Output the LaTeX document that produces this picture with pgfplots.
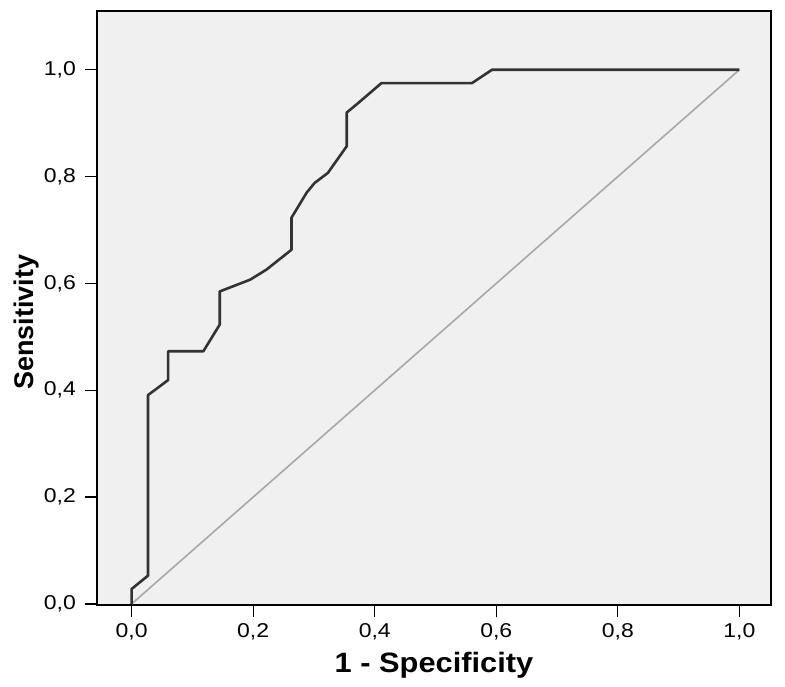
\documentclass[border=0pt]{standalone}
\usepackage{pgfplots}
\pgfplotsset{compat=1.18}
\usepackage{fontspec}
\setmainfont{Liberation Sans}
\newfontfamily\widefont[FakeStretch=1.15]{Liberation Sans}
\newfontfamily\xlabfont[FakeStretch=1.1]{Liberation Sans}
\definecolor{bgc}{HTML}{F0F0F0}
\definecolor{curvec}{HTML}{333333}
\definecolor{refc}{HTML}{A8A8A8}
\begin{document}
\begin{tikzpicture}
\path[use as bounding box] (-97pt,-82pt) rectangle (688pt,605pt);
\begin{axis}[
  at={(0pt,0pt)}, anchor=south west,
  scale only axis,
  width=674pt, height=594pt,
  xmin=-0.057, xmax=1.052,
  ymin=-0.002, ymax=1.11,
  axis background/.style={fill=bgc},
  axis line style={black, line width=1.3pt},
  xtick={0,0.2,0.4,0.6,0.8,1.0},
  ytick={0,0.2,0.4,0.6,0.8,1.0},
  tick align=outside,
  major tick length=12pt,
  xtick pos=bottom, ytick pos=left,
  major tick style={black, line width=1.3pt},
  /pgf/number format/.cd, use comma, fixed, fixed zerofill, precision=1, assume math mode=true,
  /pgfplots/.cd,
  tick label style={font=\widefont\fontsize{20}{23}\selectfont, text=black},
  xticklabel style={inner sep=2pt, yshift=-4pt},
  yticklabel style={inner sep=2pt, xshift=-7pt},
  xlabel={1 - Specificity},
  ylabel={Sensitivity},
  xlabel style={at={(axis description cs:0.5,0)}, anchor=base, yshift=-68pt, font=\xlabfont\fontsize{28}{32}\selectfont\bfseries},
  ylabel style={at={(axis description cs:-0.1053,0.476)}, anchor=center, font=\fontsize{27}{32}\selectfont\bfseries},
  clip=true,
]
\addplot[refc, line width=1.6pt] coordinates {(0,0) (1,1)};
\addplot[curvec, line width=2.6pt, line join=round] coordinates {
(0,0)
(0,0.028)
(0.027,0.053)
(0.027,0.391)
(0.060,0.419)
(0.060,0.473)
(0.118,0.473)
(0.145,0.523)
(0.145,0.585)
(0.195,0.607)
(0.222,0.626)
(0.263,0.663)
(0.263,0.723)
(0.271,0.738)
(0.288,0.770)
(0.301,0.788)
(0.323,0.807)
(0.354,0.857)
(0.354,0.920)
(0.370,0.935)
(0.411,0.975)
(0.560,0.975)
(0.593,1.0)
(1.0,1.0)
};
\end{axis}
\end{tikzpicture}
\end{document}
